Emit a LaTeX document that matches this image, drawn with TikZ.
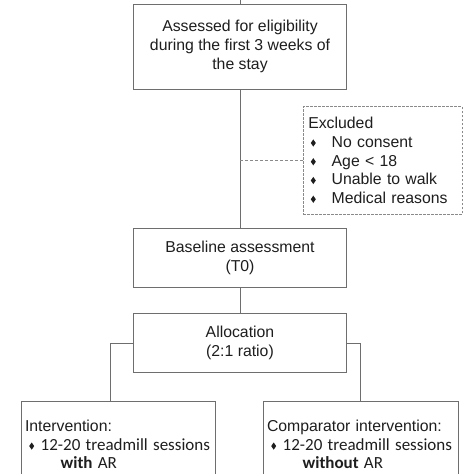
\documentclass[tikz,border=0pt]{standalone}
\usepackage{fontspec}
\setmainfont{Liberation Sans}
\newfontfamily\calfont{Carlito}
\usetikzlibrary{calc}
\definecolor{linegray}{HTML}{6E6E6E}
\definecolor{dashgray}{HTML}{8A8A8A}
\definecolor{txt}{HTML}{1E1E1E}
\newcommand{\dmd}{\tikz[x=1pt,y=1pt,baseline=0pt]{\fill[draw=none,fill=txt] (0,0.8)--(2.5,4.4)--(0,8)--(-2.5,4.4)--cycle;}}
\begin{document}
\begin{tikzpicture}[x=1pt,y=-1pt,
  box/.style={draw=linegray, line width=1pt, rectangle, inner sep=0pt, align=center,
    text=txt, font=\fontsize{15.8}{19}\selectfont},
  exbox/.style={draw=dashgray, line width=0.9pt, dash pattern=on 2.5pt off 1.5pt, rectangle,
    inner xsep=5pt, inner ysep=0pt, align=left, text=txt, font=\fontsize{15.8}{18.75}\selectfont},
  armbox/.style={draw=linegray, line width=1pt, rectangle, inner xsep=4pt, inner ysep=0pt,
    align=left, text=txt, font=\fontsize{15.8}{18.5}\selectfont},
  conn/.style={draw=linegray, line width=1pt},
  dconn/.style={draw=dashgray, line width=0.9pt, dash pattern=on 3pt off 2pt}]
\useasboundingbox (0,0) rectangle (474,474);
\clip (0,0) rectangle (474,474);
\fill[white] (0,0) rectangle (474,474);

\node[box, minimum width=213.4pt, minimum height=85pt] (assess) at (240,46.8)
  {Assessed for eligibility\\during the first 3 weeks of\\the stay};

\node[exbox, minimum width=159pt, minimum height=107.6pt, text width=149pt] (excl) at (382.8,160.5)
  {Excluded\\
   \makebox[23.4pt][l]{\hspace*{2.5pt}\dmd}No consent\\
   \makebox[23.4pt][l]{\hspace*{2.5pt}\dmd}Age < 18\\
   \makebox[23.4pt][l]{\hspace*{2.5pt}\dmd}Unable to walk\\
   \makebox[23.4pt][l]{\hspace*{2.5pt}\dmd}Medical reasons};

\node[box, minimum width=213.4pt, minimum height=59pt] (base) at (240,258.2)
  {Baseline assessment\\(T0)};

\node[box, minimum width=213.4pt, minimum height=59.4pt] (alloc) at (240,343)
  {Allocation\\(2:1 ratio)};

\node[armbox, minimum width=194pt, minimum height=86.2pt, text width=186pt] (intv) at (118,444.8)
  {Intervention:\\
   {\calfont\fontsize{17}{18.5}\selectfont\makebox[15.7pt][l]{\hspace*{4.2pt}\dmd}12-20 treadmill sessions}\\
   {\calfont\fontsize{17}{18.5}\selectfont\hspace*{35.7pt}\textbf{with} AR}};

\node[armbox, minimum width=195.3pt, minimum height=86.2pt, text width=187.3pt] (comp) at (360.65,444.8)
  {Comparator intervention:\\
   {\calfont\fontsize{17}{18.5}\selectfont\makebox[15.7pt][l]{\hspace*{4.2pt}\dmd}12-20 treadmill sessions}\\
   {\calfont\fontsize{17}{18.5}\selectfont\hspace*{35.7pt}\textbf{without} AR}};

\coordinate (topend) at (240,0);
\coordinate (split) at (240,160.5);
\draw[conn] (topend) -- (assess.north);
\draw[conn] (assess.south) -- (base.north);
\draw[dconn] (split) -- (excl.west);
\draw[conn] (base.south) -- (alloc.north);
\draw[conn] (alloc.west) -| ([xshift=-8pt]intv.north);
\draw[conn] (alloc.east) -| (comp.north);
\end{tikzpicture}
\end{document}
